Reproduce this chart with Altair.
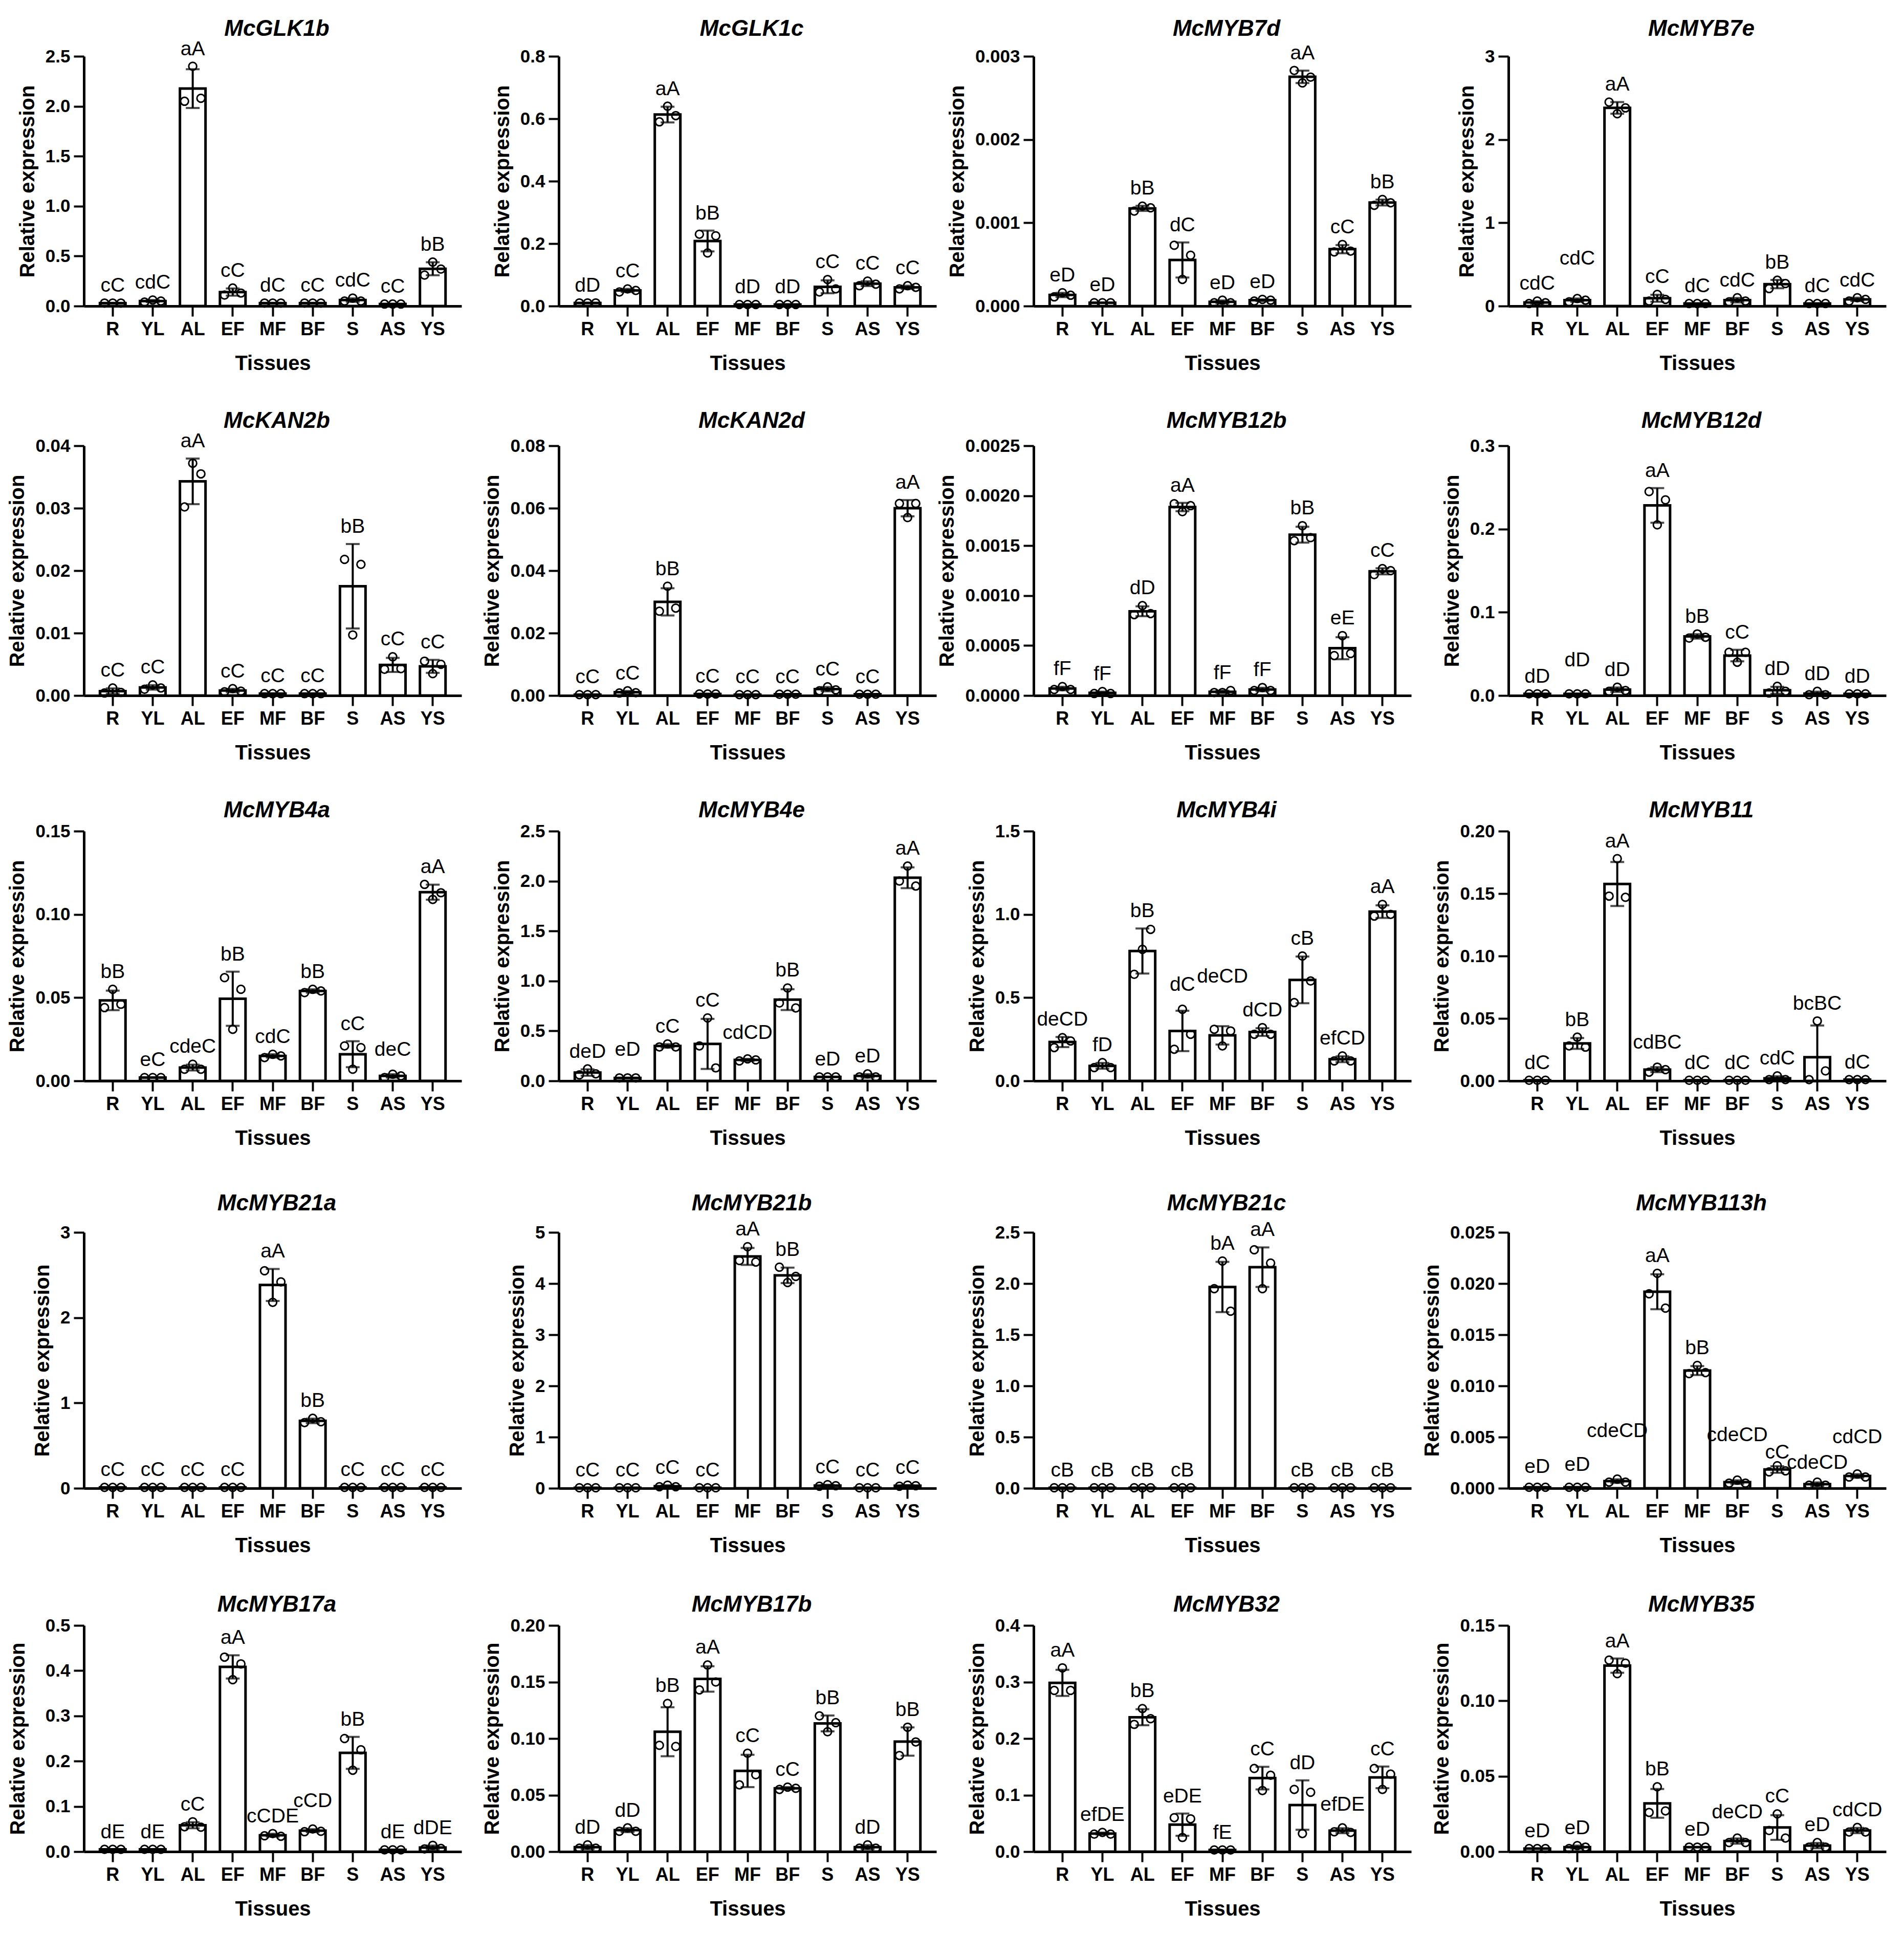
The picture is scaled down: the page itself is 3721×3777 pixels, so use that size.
import altair as alt
import pandas as pd
import numpy as np

FONT = "Liberation Sans"
TISSUES = ["R", "YL", "AL", "EF", "MF", "BF", "S", "AS", "YS"]

# ---------------- data: three replicates per tissue, letters, y ticks ----------------
mcglk1b_reps = [[0.03, 0.03, 0.03], [0.04, 0.06, 0.05], [2.05, 2.40, 2.08], [0.11, 0.18, 0.13], [0.03, 0.03, 0.03],
                [0.03, 0.03, 0.03], [0.05, 0.08, 0.05], [0.02, 0.02, 0.02], [0.31, 0.44, 0.37]]
mcglk1b_letters = ["cC", "cdC", "aA", "cC", "dC", "cC", "cdC", "cC", "bB"]
mcglk1b_ticks = [0, 0.5, 1.0, 1.5, 2.0, 2.5]

mcglk1c_reps = [[0.01, 0.01, 0.01], [0.045, 0.055, 0.05], [0.59, 0.64, 0.61], [0.23, 0.17, 0.225], [0.005, 0.005, 0.005],
                [0.005, 0.005, 0.005], [0.045, 0.085, 0.055], [0.065, 0.08, 0.07], [0.055, 0.065, 0.06]]
mcglk1c_letters = ["dD", "cC", "aA", "bB", "dD", "dD", "cC", "cC", "cC"]
mcglk1c_ticks = [0, 0.2, 0.4, 0.6, 0.8]

mcmyb7d_reps = [[0.00011, 0.00016, 0.00013], [0.00004, 0.00004, 0.00004], [0.00114, 0.0012, 0.00118],
                [0.00073, 0.00032, 0.00061], [0.00004, 0.00007, 0.00004], [0.00006, 0.00008, 0.00007],
                [0.00283, 0.00268, 0.00275], [0.00065, 0.00074, 0.00066], [0.00121, 0.00128, 0.00124]]
mcmyb7d_letters = ["eD", "eD", "bB", "dC", "eD", "eD", "aA", "cC", "bB"]
mcmyb7d_ticks = [0, 0.001, 0.002, 0.003]

mcmyb7e_reps = [[0.03, 0.06, 0.04], [0.05, 0.09, 0.07], [2.45, 2.31, 2.38], [0.06, 0.14, 0.08], [0.03, 0.03, 0.03],
                [0.05, 0.10, 0.06], [0.21, 0.31, 0.27], [0.03, 0.03, 0.03], [0.06, 0.10, 0.08]]
mcmyb7e_letters = ["cdC", "cdC", "aA", "cC", "dC", "cdC", "bB", "dC", "cdC"]
mcmyb7e_ticks = [0, 1, 2, 3]

mckan2b_reps = [[0.0004, 0.0012, 0.0005], [0.001, 0.0017, 0.0012], [0.0302, 0.0372, 0.0355], [0.0006, 0.0011, 0.0007],
                [0.0003, 0.0003, 0.0003], [0.0003, 0.0003, 0.0003], [0.0218, 0.0097, 0.021], [0.0042, 0.0062, 0.0043],
                [0.0055, 0.0035, 0.005]]
mckan2b_letters = ["cC", "cC", "aA", "cC", "cC", "cC", "bB", "cC", "cC"]
mckan2b_ticks = [0, 0.01, 0.02, 0.03, 0.04]

mckan2d_reps = [[0.0003, 0.0003, 0.0003], [0.0008, 0.0015, 0.0009], [0.027, 0.035, 0.028], [0.0005, 0.0005, 0.0005],
                [0.0003, 0.0003, 0.0003], [0.0004, 0.0004, 0.0004], [0.0015, 0.0028, 0.0018], [0.0004, 0.0004, 0.0004],
                [0.0615, 0.057, 0.0615]]
mckan2d_letters = ["cC", "cC", "bB", "cC", "cC", "cC", "cC", "cC", "aA"]
mckan2d_ticks = [0, 0.02, 0.04, 0.06, 0.08]

mcmyb12b_reps = [[0.00006, 0.00009, 0.00006], [0.00002, 0.00004, 0.00002], [0.00081, 0.0009, 0.00082],
                 [0.00192, 0.00184, 0.0019], [0.00003, 0.00003, 0.00005], [0.00005, 0.00008, 0.00005],
                 [0.00155, 0.0017, 0.00158], [0.0004, 0.0006, 0.00042], [0.00121, 0.00127, 0.00125]]
mcmyb12b_letters = ["fF", "fF", "dD", "aA", "fF", "fF", "bB", "eE", "cC"]
mcmyb12b_ticks = [0, 0.0005, 0.001, 0.0015, 0.002, 0.0025]

mcmyb12d_reps = [[0.002, 0.002, 0.002], [0.002, 0.002, 0.002], [0.005, 0.01, 0.006], [0.245, 0.205, 0.235],
                 [0.069, 0.074, 0.07], [0.052, 0.04, 0.052], [0.003, 0.011, 0.005], [0.001, 0.005, 0.001],
                 [0.002, 0.002, 0.002]]
mcmyb12d_letters = ["dD", "dD", "dD", "aA", "bB", "cC", "dD", "dD", "dD"]
mcmyb12d_ticks = [0, 0.1, 0.2, 0.3]

mcmyb4a_reps = [[0.044, 0.055, 0.046], [0.002, 0.002, 0.002], [0.007, 0.01, 0.007], [0.062, 0.031, 0.055],
                [0.014, 0.016, 0.015], [0.053, 0.055, 0.054], [0.021, 0.007, 0.02], [0.002, 0.004, 0.003],
                [0.118, 0.109, 0.113]]
mcmyb4a_letters = ["bB", "eC", "cdeC", "bB", "cdC", "bB", "cC", "deC", "aA"]
mcmyb4a_ticks = [0, 0.05, 0.10, 0.15]

mcmyb4e_reps = [[0.06, 0.12, 0.07], [0.03, 0.03, 0.03], [0.34, 0.37, 0.34], [0.35, 0.63, 0.13], [0.2, 0.22, 0.21],
                [0.78, 0.93, 0.73], [0.04, 0.04, 0.04], [0.04, 0.07, 0.04], [2.0, 2.15, 1.95]]
mcmyb4e_letters = ["deD", "eD", "cC", "cC", "cdCD", "bB", "eD", "eD", "aA"]
mcmyb4e_ticks = [0, 0.5, 1.0, 1.5, 2.0, 2.5]

mcmyb4i_reps = [[0.2, 0.26, 0.24], [0.08, 0.11, 0.08], [0.64, 0.79, 0.91], [0.19, 0.43, 0.28], [0.31, 0.21, 0.3],
                [0.28, 0.32, 0.28], [0.47, 0.75, 0.6], [0.12, 0.15, 0.12], [0.99, 1.06, 1.0]]
mcmyb4i_letters = ["deCD", "fD", "bB", "dC", "deCD", "dCD", "cB", "efCD", "aA"]
mcmyb4i_ticks = [0, 0.5, 1.0, 1.5]

mcmyb11_reps = [[0.0005, 0.0005, 0.0005], [0.028, 0.035, 0.027], [0.148, 0.178, 0.147], [0.007, 0.011, 0.009],
                [0.0005, 0.0005, 0.0005], [0.0005, 0.0005, 0.0005], [0.001, 0.004, 0.001], [0.001, 0.048, 0.008],
                [0.001, 0.001, 0.001]]
mcmyb11_letters = ["dC", "bB", "aA", "cdBC", "dC", "dC", "cdC", "bcBC", "dC"]
mcmyb11_ticks = [0, 0.05, 0.10, 0.15, 0.20]

mcmyb21a_reps = [[0.01, 0.01, 0.01], [0.01, 0.01, 0.01], [0.01, 0.01, 0.01], [0.01, 0.01, 0.01], [2.55, 2.18, 2.42],
                 [0.77, 0.82, 0.78], [0.01, 0.01, 0.01], [0.01, 0.01, 0.01], [0.01, 0.01, 0.01]]
mcmyb21a_letters = ["cC", "cC", "cC", "cC", "aA", "bB", "cC", "cC", "cC"]
mcmyb21a_ticks = [0, 1, 2, 3]

mcmyb21b_reps = [[0.01, 0.01, 0.01], [0.01, 0.01, 0.01], [0.03, 0.06, 0.03], [0.01, 0.01, 0.01], [4.45, 4.72, 4.42],
                 [4.32, 4.02, 4.14], [0.04, 0.07, 0.05], [0.01, 0.01, 0.01], [0.04, 0.06, 0.05]]
mcmyb21b_letters = ["cC", "cC", "cC", "cC", "aA", "bB", "cC", "cC", "cC"]
mcmyb21b_ticks = [0, 1, 2, 3, 4, 5]

mcmyb21c_reps = [[0.005, 0.005, 0.005], [0.005, 0.005, 0.005], [0.005, 0.005, 0.005], [0.005, 0.005, 0.005],
                 [1.95, 2.22, 1.73], [2.33, 1.95, 2.2], [0.005, 0.005, 0.005], [0.005, 0.005, 0.005],
                 [0.005, 0.005, 0.005]]
mcmyb21c_letters = ["cB", "cB", "cB", "cB", "bA", "aA", "cB", "cB", "cB"]
mcmyb21c_ticks = [0, 0.5, 1.0, 1.5, 2.0, 2.5]

mcmyb113h_reps = [[0.0001, 0.0001, 0.0001], [0.0001, 0.0001, 0.0001], [0.0006, 0.0009, 0.0006], [0.019, 0.021, 0.0176],
                  [0.0112, 0.012, 0.0113], [0.0005, 0.0008, 0.0005], [0.0016, 0.0022, 0.0017], [0.0003, 0.0006, 0.0003],
                  [0.0011, 0.0014, 0.0011]]
mcmyb113h_letters = ["eD", "eD", "cdeCD", "aA", "bB", "cdeCD", "cC", "cdeCD", "cdCD"]
mcmyb113h_ticks = [0, 0.005, 0.010, 0.015, 0.020, 0.025]

mcmyb17a_reps = [[0.005, 0.005, 0.005], [0.005, 0.005, 0.005], [0.055, 0.066, 0.054], [0.43, 0.38, 0.415],
                 [0.035, 0.04, 0.034], [0.044, 0.05, 0.045], [0.25, 0.18, 0.225], [0.004, 0.004, 0.004],
                 [0.006, 0.014, 0.007]]
mcmyb17a_letters = ["dE", "dE", "cC", "aA", "cCDE", "cCD", "bB", "dE", "dDE"]
mcmyb17a_ticks = [0, 0.1, 0.2, 0.3, 0.4, 0.5]

mcmyb17b_reps = [[0.003, 0.006, 0.003], [0.018, 0.021, 0.018], [0.094, 0.131, 0.093], [0.143, 0.165, 0.15],
                 [0.059, 0.087, 0.068], [0.055, 0.057, 0.056], [0.12, 0.106, 0.114], [0.003, 0.006, 0.003],
                 [0.085, 0.11, 0.097]]
mcmyb17b_letters = ["dD", "dD", "bB", "aA", "cC", "cC", "bB", "dD", "bB"]
mcmyb17b_ticks = [0, 0.05, 0.10, 0.15, 0.20]

mcmyb32_reps = [[0.285, 0.325, 0.285], [0.031, 0.034, 0.031], [0.225, 0.253, 0.235], [0.06, 0.025, 0.058],
                [0.003, 0.003, 0.003], [0.147, 0.108, 0.135], [0.11, 0.032, 0.105], [0.035, 0.042, 0.034],
                [0.147, 0.11, 0.137]]
mcmyb32_letters = ["aA", "efDE", "bB", "eDE", "fE", "cC", "dD", "efDE", "cC"]
mcmyb32_ticks = [0, 0.1, 0.2, 0.3, 0.4]

mcmyb35_reps = [[0.002, 0.002, 0.002], [0.002, 0.004, 0.003], [0.127, 0.118, 0.125], [0.026, 0.043, 0.027],
                [0.003, 0.003, 0.003], [0.006, 0.009, 0.006], [0.014, 0.025, 0.009], [0.003, 0.006, 0.003],
                [0.013, 0.016, 0.013]]
mcmyb35_letters = ["eD", "eD", "aA", "bB", "eD", "deCD", "cC", "eD", "cdCD"]
mcmyb35_ticks = [0, 0.05, 0.10, 0.15]

letter_lifts = {
    "McMYB7e": {"YL": 0.50},
    "McMYB12d": {"YL": 0.035},
    "McMYB4a": {"AS": 0.015},
    "McMYB4e": {"MF": 0.42, "YL": 0.25},
    "McMYB4i": {"EF": 0.54, "MF": 0.59},
    "McMYB11": {"EF": 0.026},
    "McMYB113h": {"R": 0.0015, "YL": 0.0017, "AL": 0.0050, "BF": 0.0046, "S": 0.0029, "AS": 0.0019, "YS": 0.0044},
    "McMYB17a": {"BF": 0.098},
    "McMYB32": {"AS": 0.072},
    "McMYB35": {"BF": 0.022},
}

ROWS = [
    [("McGLK1b", mcglk1b_reps, mcglk1b_letters, mcglk1b_ticks, ".1f"),
     ("McGLK1c", mcglk1c_reps, mcglk1c_letters, mcglk1c_ticks, ".1f"),
     ("McMYB7d", mcmyb7d_reps, mcmyb7d_letters, mcmyb7d_ticks, ".3f"),
     ("McMYB7e", mcmyb7e_reps, mcmyb7e_letters, mcmyb7e_ticks, "d")],
    [("McKAN2b", mckan2b_reps, mckan2b_letters, mckan2b_ticks, ".2f"),
     ("McKAN2d", mckan2d_reps, mckan2d_letters, mckan2d_ticks, ".2f"),
     ("McMYB12b", mcmyb12b_reps, mcmyb12b_letters, mcmyb12b_ticks, ".4f"),
     ("McMYB12d", mcmyb12d_reps, mcmyb12d_letters, mcmyb12d_ticks, ".1f")],
    [("McMYB4a", mcmyb4a_reps, mcmyb4a_letters, mcmyb4a_ticks, ".2f"),
     ("McMYB4e", mcmyb4e_reps, mcmyb4e_letters, mcmyb4e_ticks, ".1f"),
     ("McMYB4i", mcmyb4i_reps, mcmyb4i_letters, mcmyb4i_ticks, ".1f"),
     ("McMYB11", mcmyb11_reps, mcmyb11_letters, mcmyb11_ticks, ".2f")],
    [("McMYB21a", mcmyb21a_reps, mcmyb21a_letters, mcmyb21a_ticks, "d"),
     ("McMYB21b", mcmyb21b_reps, mcmyb21b_letters, mcmyb21b_ticks, "d"),
     ("McMYB21c", mcmyb21c_reps, mcmyb21c_letters, mcmyb21c_ticks, ".1f"),
     ("McMYB113h", mcmyb113h_reps, mcmyb113h_letters, mcmyb113h_ticks, ".3f")],
    [("McMYB17a", mcmyb17a_reps, mcmyb17a_letters, mcmyb17a_ticks, ".1f"),
     ("McMYB17b", mcmyb17b_reps, mcmyb17b_letters, mcmyb17b_ticks, ".2f"),
     ("McMYB32", mcmyb32_reps, mcmyb32_letters, mcmyb32_ticks, ".1f"),
     ("McMYB35", mcmyb35_reps, mcmyb35_letters, mcmyb35_ticks, ".2f")],
]

PLOT_W = 738
ROW_H = [488, 488, 488, 500, 442]
BAR_W = 50
DOT_SHIFT = [-16, 0, 16]
TITLE_DIST = [53, 48, 40, 56, 40]
LETTER_GAP_PX = 22
# keep the first column of the lower block as wide on the left as the upper block
MIN_EXTENT = {"McMYB17a": 95}


def panel(name, reps, letters, ticks, fmt, tdist, height):
    rows = []
    for t, vals in zip(TISSUES, reps):
        for i, v in enumerate(vals):
            rows.append({"tissue": t, "rep": i, "v": v})
    df = pd.DataFrame(rows)
    g = df.groupby("tissue", sort=False)["v"]
    summ = pd.DataFrame({"tissue": TISSUES,
                         "mean": g.mean().reindex(TISSUES).values,
                         "sd": g.std().reindex(TISSUES).values,
                         "vmax": g.max().reindex(TISSUES).values})
    summ["hi"] = summ["mean"] + summ["sd"]
    summ["lo"] = (summ["mean"] - summ["sd"]).clip(lower=0)
    summ["top"] = np.maximum(summ["hi"], summ["vmax"])
    summ["letter"] = letters
    ymax = ticks[-1]
    gap = LETTER_GAP_PX / height * ymax
    lifts = letter_lifts.get(name, {})
    summ["ly"] = [lifts.get(t, top + gap) for t, top in zip(summ["tissue"], summ["top"])]

    xscale = alt.Scale(paddingInner=0.36, paddingOuter=0.4)
    yscale = alt.Scale(domain=[0, ymax], nice=False, zero=True)
    xaxis = alt.Axis(title="Tissues", labelAngle=0)
    yextra = {"minExtent": MIN_EXTENT[name]} if name in MIN_EXTENT else {}
    yaxis = alt.Axis(title="Relative expression", values=ticks, format=fmt, labelFlush=False, **yextra)

    def X():
        return alt.X("tissue:N", sort=TISSUES, scale=xscale, axis=xaxis, title="Tissues")

    def Y(field):
        return alt.Y(field, scale=yscale, axis=yaxis, title="Relative expression")

    bars = alt.Chart(summ).mark_bar(fill="white", stroke="black", strokeWidth=5, width=BAR_W).encode(
        x=X(), y=Y("mean:Q"))
    dots = [
        alt.Chart(df[df["rep"] == k]).mark_point(shape="circle", size=240, filled=False, color="black",
                                                 strokeWidth=3, opacity=1, xOffset=DOT_SHIFT[k]).encode(
            x=X(), y=Y("v:Q"))
        for k in range(3)
    ]
    err = alt.Chart(summ).mark_rule(color="black", strokeWidth=4).encode(
        x=X(), y=Y("lo:Q"), y2="hi:Q")
    cap_hi = alt.Chart(summ).mark_tick(color="black", thickness=4, size=27).encode(
        x=X(), y=Y("hi:Q"))
    cap_lo = alt.Chart(summ).mark_tick(color="black", thickness=4, size=27).encode(
        x=X(), y=Y("lo:Q"))
    txt = alt.Chart(summ).mark_text(font=FONT, fontSize=39, baseline="alphabetic", color="black").encode(
        x=X(), y=Y("ly:Q"), text="letter:N")
    ttl = alt.Chart(pd.DataFrame({"gene": [name]})).mark_text(
        font=FONT, fontSize=44, fontStyle="italic", fontWeight="bold", baseline="middle", align="center",
        color="black"
    ).encode(text="gene:N", x=alt.value(PLOT_W / 2 + 8), y=alt.value(-tdist))

    return alt.layer(bars, *dots, err, cap_hi, cap_lo, txt, ttl).properties(width=PLOT_W, height=height)


row_charts = []
for r, row in enumerate(ROWS):
    panels = [panel(n, reps, let, ticks, fmt, TITLE_DIST[r], ROW_H[r]) for (n, reps, let, ticks, fmt) in row]
    row_charts.append(alt.hconcat(*panels, spacing=190, bounds="flush"))

upper = alt.vconcat(row_charts[0], row_charts[1], row_charts[2], spacing=71)
lower = alt.vconcat(row_charts[3], row_charts[4], spacing=74)

chart = alt.vconcat(upper, lower, spacing=86).properties(
    padding={"left": 6, "top": 27, "right": 5, "bottom": 5}
).configure_view(stroke=None).configure_axis(
    domainColor="black", tickColor="black", labelColor="black", titleColor="black",
    domainWidth=5, tickWidth=4, labelFont=FONT, titleFont=FONT, grid=False
).configure_axisX(
    tickSize=20, labelPadding=8, labelFontSize=36, labelFontWeight="bold",
    titleFontSize=40, titleFontWeight="bold", titlePadding=29
).configure_axisY(
    tickSize=20, labelPadding=7, labelFontSize=35, labelFontWeight="bold",
    titleFontSize=40, titleFontWeight="bold", titlePadding=14
)

chart.save("out.html", embed_options={"renderer": "svg", "actions": False})
